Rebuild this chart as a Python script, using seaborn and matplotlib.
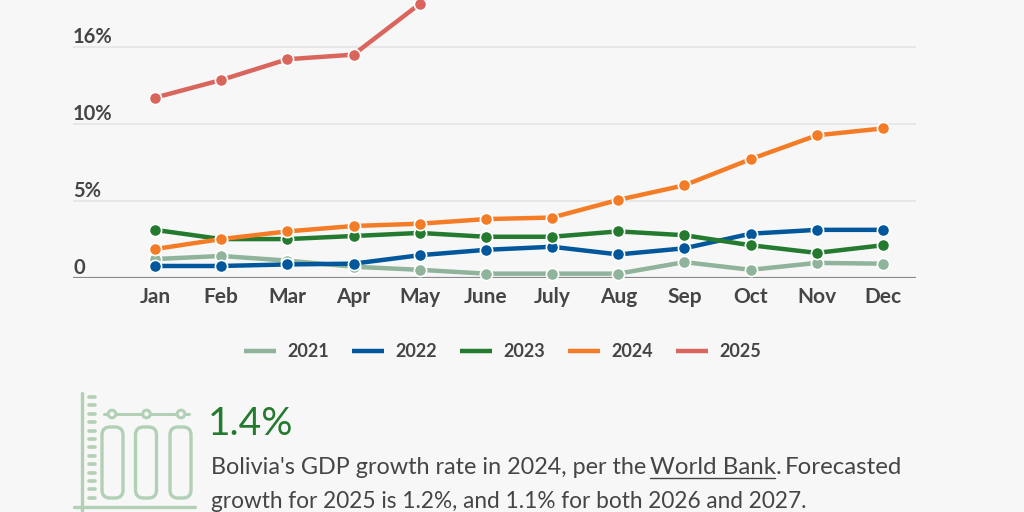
import matplotlib
matplotlib.use("Agg")
import matplotlib.pyplot as plt
from matplotlib.lines import Line2D
from matplotlib.patches import FancyBboxPatch, Circle
import numpy as np
import pandas as pd
import seaborn as sns

months = ["Jan", "Feb", "Mar", "Apr", "May", "June", "July", "Aug", "Sep", "Oct", "Nov", "Dec"]
y2021 = [1.2, 1.4, 1.1, 0.7, 0.5, 0.25, 0.25, 0.25, 1.0, 0.5, 0.95, 0.9]
y2022 = [0.75, 0.75, 0.85, 0.9, 1.45, 1.8, 2.0, 1.5, 1.9, 2.85, 3.1, 3.1]
y2023 = [3.1, 2.5, 2.5, 2.7, 2.9, 2.65, 2.65, 3.0, 2.75, 2.1, 1.6, 2.1]
y2024 = [1.85, 2.5, 3.0, 3.35, 3.5, 3.8, 3.9, 5.05, 6.0, 7.7, 9.25, 9.7]
y2025 = [11.7, 12.85, 14.2, 14.5, 17.8]
years = ["2021", "2022", "2023", "2024", "2025"]
colors = ["#8fb39b", "#01579b", "#247a2f", "#f57c26", "#d9655c"]
y_ticks = [0, 5, 10, 15]
y_labels = ["0", "5%", "10%", "16%"]

BG = "#f7f7f7"
TEXT = "#454545"
ICON = "#b2d0b5"

rows = []
for year, vals in zip(years, [y2021, y2022, y2023, y2024, y2025]):
    for month, val in zip(months, vals):
        rows.append({"month": month, "year": year, "value": val})
df = pd.DataFrame(rows)

sns.set_theme(style="white", rc={"axes.facecolor": BG, "figure.facecolor": BG})
plt.rcParams["font.family"] = ["Lato", "DejaVu Sans"]

W, H = 1024, 512
fig = plt.figure(figsize=(W / 100, H / 100), dpi=100, facecolor=BG)
ax = fig.add_axes([73 / W, 1 - 277.5 / H, (916 - 73) / W, 277.5 / H])

# Gridlines sit beneath the series; the zero line is darker.
for t in y_ticks[1:]:
    ax.axhline(t, color="#e4e4e4", lw=1.2, zorder=0)
ax.axhline(0, color="#8a8a8a", lw=1.6, zorder=1)

sns.lineplot(
    data=df, x="month", y="value", hue="year", hue_order=years, palette=colors,
    sort=False, errorbar=None, lw=3.2, marker="o", markersize=8.8,
    markeredgecolor="white", markeredgewidth=1.2, legend=False, ax=ax, clip_on=False,
)

ax.set_xlim(-82 / 66.18, 11 + 33 / 66.18)
ax.set_ylim(0, 277.5 / 15.37)
ax.set_xlabel("")
ax.set_ylabel("")
sns.despine(ax=ax, left=True, bottom=True)
ax.set_yticks(y_ticks)
ax.set_yticklabels([])
ax.tick_params(axis="both", length=0)
ax.tick_params(axis="x", pad=7, labelsize=15, labelcolor=TEXT)
for lab in ax.get_xticklabels():
    lab.set_fontweight("bold")
for t, lab in zip(y_ticks, y_labels):
    ax.annotate(lab, (0, t), xycoords=ax.get_yaxis_transform(), xytext=(0, 0),
                textcoords="offset points", ha="left", va="bottom",
                fontsize=14.5, fontweight="bold", color=TEXT)

handles = [Line2D([], [], color=c, lw=3.2, solid_capstyle="butt") for c in colors]
fig.legend(handles, years, loc="center", bbox_to_anchor=(502.5 / W, 1 - 351.5 / H), ncol=5,
           frameon=False, handlelength=1.77, handletextpad=0.6, columnspacing=1.3,
           labelcolor=TEXT, prop={"weight": "bold", "size": 13})

# Pixel-space overlay for the decorative chart icon and the callout.
ov = fig.add_axes([0, 0, 1, 1], facecolor="none")
ov.set_xlim(0, W)
ov.set_ylim(H, 0)
ov.axis("off")

ov.plot([82, 82], [393, 512], color=ICON, lw=2.4, solid_capstyle="round")
ov.plot([74, 195], [506.5, 506.5], color=ICON, lw=2.4, solid_capstyle="round")
for yt in np.arange(13) * 8.4 + 397:
    ov.plot([89, 95], [yt, yt], color=ICON, lw=2.6, solid_capstyle="round")
ov.plot([104, 189], [414, 414], color=ICON, lw=2.2)
for cx in (112, 146.5, 181):
    ov.add_patch(Circle((cx, 414), 3.8, fc=BG, ec=ICON, lw=2.2, zorder=3))
for x0 in (102, 135.5, 170):
    ov.add_patch(FancyBboxPatch((x0 + 6, 433), 9, 59, boxstyle="round,pad=6,rounding_size=8",
                                fc="none", ec=ICON, lw=2.4))

ov.text(208, 435, "1.4%", color="#247a2f", fontsize=28, va="baseline", ha="left")
ov.text(211, 474, "Bolivia's GDP growth rate in 2024, per the", color=TEXT, fontsize=16.8, va="baseline", ha="left")
ov.text(650, 474, "World Bank", color=TEXT, fontsize=17.3, va="baseline", ha="left")
ov.plot([650, 775], [477.5, 477.5], color=TEXT, lw=1)
ov.text(775.5, 474, ".", color=TEXT, fontsize=17.3, va="baseline", ha="left")
ov.text(785, 474, "Forecasted", color=TEXT, fontsize=17.3, va="baseline", ha="left")
ov.text(211, 508, "growth for 2025 is 1.2%, and 1.1% for both 2026 and 2027.", color=TEXT, fontsize=16.3, va="baseline", ha="left")

fig.savefig("out.png", dpi=100, facecolor=BG)
